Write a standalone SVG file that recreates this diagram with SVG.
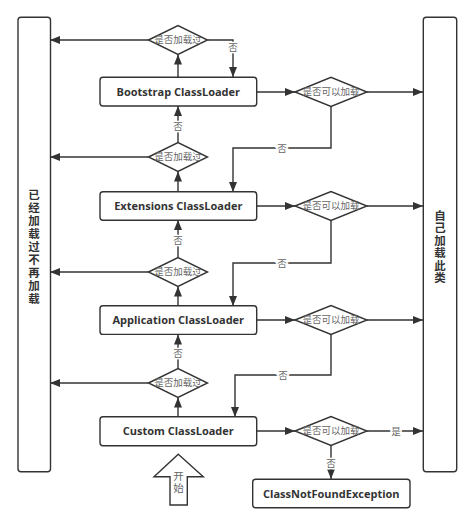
<svg xmlns="http://www.w3.org/2000/svg" width="474" height="526" viewBox="0 0 474 526">
<style>
.box{fill:#fff;stroke:#333;stroke-width:1.4}
.dia{fill:#fff;stroke:#333;stroke-width:1.4}
.ln{fill:none;stroke:#333;stroke-width:1.4}
.bt{font-family:"Open Sans","Liberation Sans",sans-serif;font-weight:bold;font-size:11px;fill:#333;text-anchor:middle}
.dt{font-family:"Noto Sans CJK SC",sans-serif;font-size:9.5px;fill:#666;text-anchor:middle}
.lb{font-family:"Noto Sans CJK SC",sans-serif;font-size:9.5px;fill:#666;text-anchor:middle;stroke:#fff;stroke-width:3;paint-order:stroke}
.vt{font-family:"Noto Sans CJK SC",sans-serif;font-weight:bold;font-size:11.5px;fill:#333;text-anchor:middle;writing-mode:vertical-rl}
</style>
<defs>
<marker id="ah" viewBox="0 0 10 8" refX="10" refY="4" markerWidth="10" markerHeight="8" markerUnits="userSpaceOnUse" orient="auto">
<path d="M0,0 L10,4 L0,8 z" fill="#333"/>
</marker>
</defs>
<g id="connectors">
<path class="ln" d="M148.5,40 L50,40" marker-end="url(#ah)"/>
<path class="ln" d="M207.5,40 L233,40 L233,77" marker-end="url(#ah)"/>
<path class="ln" d="M178,77 L178,54.5" marker-end="url(#ah)"/>
<path class="ln" d="M256.7,92 L295,92" marker-end="url(#ah)"/>
<path class="ln" d="M367,92 L423,92" marker-end="url(#ah)"/>
<path class="ln" d="M331,106.5 L331,148 L233,148 L233,192" marker-end="url(#ah)"/>
<path class="ln" d="M178,142.5 L178,106" marker-end="url(#ah)"/>
<path class="ln" d="M148.5,157 L50,157" marker-end="url(#ah)"/>
<path class="ln" d="M178,192 L178,171.5" marker-end="url(#ah)"/>
<path class="ln" d="M256.7,206 L295,206" marker-end="url(#ah)"/>
<path class="ln" d="M367,206 L423,206" marker-end="url(#ah)"/>
<path class="ln" d="M331,220.5 L331,263 L233,263 L233,306" marker-end="url(#ah)"/>
<path class="ln" d="M178,257.5 L178,220" marker-end="url(#ah)"/>
<path class="ln" d="M148.5,272 L50,272" marker-end="url(#ah)"/>
<path class="ln" d="M178,306 L178,286.5" marker-end="url(#ah)"/>
<path class="ln" d="M256.7,320 L295,320" marker-end="url(#ah)"/>
<path class="ln" d="M367,320 L423,320" marker-end="url(#ah)"/>
<path class="ln" d="M331,334.5 L331,375 L235,375 L235,417" marker-end="url(#ah)"/>
<path class="ln" d="M178,368.5 L178,334.5" marker-end="url(#ah)"/>
<path class="ln" d="M148.5,383 L50,383" marker-end="url(#ah)"/>
<path class="ln" d="M178,417 L178,397.5" marker-end="url(#ah)"/>
<path class="ln" d="M256.7,431 L295,431" marker-end="url(#ah)"/>
<path class="ln" d="M367,431 L423,431" marker-end="url(#ah)"/>
<path class="ln" d="M331,445.5 L331,479" marker-end="url(#ah)"/>
<text class="lb" x="233" y="51">否</text>
<text class="lb" x="282" y="151.5">否</text>
<text class="lb" x="178" y="129.5">否</text>
<text class="lb" x="282" y="266.5">否</text>
<text class="lb" x="178" y="243.5">否</text>
<text class="lb" x="283" y="378.5">否</text>
<text class="lb" x="178" y="356.5">否</text>
<text class="lb" x="396" y="434.5">是</text>
<text class="lb" x="331" y="466.5">否</text>
</g>
<g id="left-rect">
<rect class="box" x="18" y="17.3" width="32.5" height="454.5" rx="3"/>
<text class="vt" x="34" y="247" style="letter-spacing:1.5px">已经加载过不再加载</text>
</g>
<g id="right-rect">
<rect class="box" x="423.3" y="17.3" width="33.4" height="454.5" rx="3"/>
<text class="vt" x="440" y="247.2" style="letter-spacing:1px">自己加载此类</text>
</g>
<g id="bootstrap">
<rect class="box" x="100" y="77.3" width="156.7" height="28.7" rx="3"/>
<text class="bt" x="178.3" y="95.8">Bootstrap ClassLoader</text>
</g>
<g id="extensions">
<rect class="box" x="100" y="191.7" width="156.7" height="28.5" rx="3"/>
<text class="bt" x="178.3" y="210">Extensions ClassLoader</text>
</g>
<g id="application">
<rect class="box" x="100" y="305.7" width="156.7" height="28.7" rx="3"/>
<text class="bt" x="178.3" y="324">Application ClassLoader</text>
</g>
<g id="custom">
<rect class="box" x="100" y="416.7" width="156.7" height="29" rx="3"/>
<text class="bt" x="178.3" y="435.2">Custom ClassLoader</text>
</g>
<g id="d1"><polygon class="dia" points="148.5,40 178,25.5 207.5,40 178,54.5"/><text class="dt" x="178" y="43.3">是否加载过</text></g>
<g id="d2"><polygon class="dia" points="148.5,157 178,142.5 207.5,157 178,171.5"/><text class="dt" x="178" y="160.3">是否加载过</text></g>
<g id="d3"><polygon class="dia" points="148.5,272 178,257.5 207.5,272 178,286.5"/><text class="dt" x="178" y="275.3">是否加载过</text></g>
<g id="d4"><polygon class="dia" points="148.5,383 178,368.5 207.5,383 178,397.5"/><text class="dt" x="178" y="386.3">是否加载过</text></g>
<g id="r1"><polygon class="dia" points="295,92 331,77.3 367,92 331,106.5"/><text class="dt" x="331" y="95.3">是否可以加载</text></g>
<g id="r2"><polygon class="dia" points="295,206 331,191.5 367,206 331,220.5"/><text class="dt" x="331" y="209.3">是否可以加载</text></g>
<g id="r3"><polygon class="dia" points="295,320 331,305.5 367,320 331,334.5"/><text class="dt" x="331" y="323.3">是否可以加载</text></g>
<g id="r4"><polygon class="dia" points="295,431 331,416.5 367,431 331,445.5"/><text class="dt" x="331" y="434.3">是否可以加载</text></g>
<g id="cnfe">
<rect class="box" x="252.7" y="479.3" width="157.3" height="28.4" rx="3"/>
<text class="bt" x="331.3" y="497.5">ClassNotFoundException</text>
</g>
<g id="start">
<polygon class="box" points="178.3,454.3 203.3,476.7 187.3,476.7 187.3,505 170,505 170,476.7 154,476.7"/>
<text class="dt" x="178.5" y="483" style="font-size:10.5px;writing-mode:vertical-rl;letter-spacing:1.5px">开始</text>
</g>
</svg>
